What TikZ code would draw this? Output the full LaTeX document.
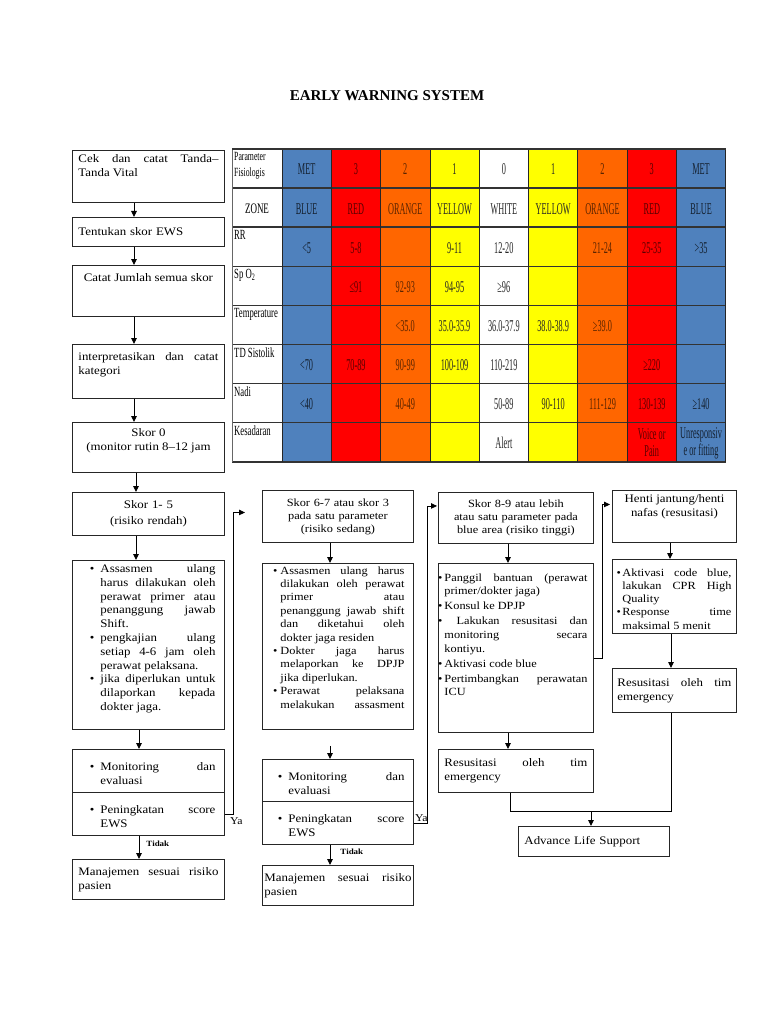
\documentclass[tikz,border=0pt]{standalone}
\usepackage{fontspec}
\setmainfont{Liberation Serif}[FakeStretch=1.12]
\newfontfamily\judulfont{Liberation Serif}
\newfontfamily\tabel[FakeStretch=0.62]{Liberation Serif}
\newfontfamily\tabelsempit[FakeStretch=0.5]{Liberation Serif}
\usepackage{enumitem}
\usepackage{tikz}
\usetikzlibrary{arrows.meta, positioning}

\definecolor{biru}{HTML}{4F81BD}
\definecolor{merah}{HTML}{FF0000}
\definecolor{oranye}{HTML}{FF6600}
\definecolor{kuning}{HTML}{FFFF00}
\definecolor{putih}{HTML}{FFFFFF}
\colorlet{tk1}{biru!25!black}
\colorlet{tk2}{merah!35!black}
\colorlet{tk3}{oranye!35!black}
\colorlet{tk4}{black!85}
\colorlet{tk5}{black!85}
\colorlet{tk6}{black!85}
\colorlet{tk7}{oranye!35!black}
\colorlet{tk8}{merah!35!black}
\colorlet{tk9}{biru!25!black}

\newlist{butir}{itemize}{1}
\setlist[butir]{label=\textbullet, nosep, leftmargin=12pt, labelsep=4pt}
\newcommand{\atas}[3][0pt]{\parbox[t][#2][t]{\linewidth}{\vspace*{#1}#3}}

\begin{document}
\begin{tikzpicture}[
  x=1pt, y=-1pt,
  kotak/.style={draw=black!85, line width=0.9pt, fill=white, anchor=north west,
    inner xsep=6pt, inner ysep=4pt, align=justify,
    font=\fontsize{11.5}{13.8}\selectfont},
  kiri/.style={kotak, text width=140pt},
  tengah/.style={kotak, text width=139pt},
  kanan/.style={kotak, text width=143pt},
  ujung/.style={kotak, inner xsep=5pt, text width=114pt},
  panah/.style={-{Triangle[length=6pt, width=5.5pt]}, line width=0.9pt},
  garis/.style={line width=0.9pt},
  ket/.style={inner sep=1pt, font=\fontsize{10.5}{12}\selectfont},
  sel/.style={inner sep=0pt, align=center, font=\tabelsempit\fontsize{16.5}{17}\selectfont},
  judulbaris/.style={anchor=north west, inner sep=1pt, align=left,
    font=\tabel\fontsize{14}{15}\selectfont},
  garistabel/.style={line width=1.4pt, black!80}
]
  \fill[white] (0,0) rectangle (768,1024);
  \useasboundingbox (0,0) rectangle (768,1024);

  \node[font=\judulfont\fontsize{15}{18}\selectfont\bfseries] (judul) at (387,96) {EARLY WARNING SYSTEM};

  % tabel skor
  \foreach \w [count=\c] in {biru,merah,oranye,kuning,putih,kuning,oranye,merah,biru}
    \fill[\w] ({282+(\c-1)*49.3},149) rectangle ++(49.3,312.8);
  \foreach \r in {0,...,8}
    \draw[garistabel] (232,{149+\r*39.1}) -- (725.7,{149+\r*39.1});
  \foreach \c in {0,...,9}
    \draw[black!85, line width=0.8pt] ({282+\c*49.3},149) -- ({282+\c*49.3},461.8);
  \draw[black!60, line width=0.6pt] (232,149) -- (232,461.8);
  \draw[black!80, line width=2pt] (232,149) -- (725.7,149);

  \node[judulbaris, font=\tabel\fontsize{12.5}{16}\selectfont] (param) at (233,151) {Parameter\\Fisiologis};
  \node[sel, font=\tabel\fontsize{14.5}{17}\selectfont] (zona) at (257,209) {ZONE};
  \foreach \lbl [count=\r] in {RR, Sp O\textsubscript{2}, Temperature, TD Sistolik, Nadi, Kesadaran}
    \node[judulbaris] (lb\r) at (233,{229.2+(\r-1)*39.1}) {\lbl};

  \foreach \yy/\isibaris [count=\r] in {
      169/{MET,3,2,1,0,1,2,3,MET},
      209/{BLUE,RED,ORANGE,YELLOW,WHITE,YELLOW,ORANGE,RED,BLUE},
      248/{<5,5-8,{},9-11,12-20,{},21-24,25-35,>35},
      287/{{},≤91,92-93,94-95,≥96,{},{},{},{}},
      326/{{},{},<35.0,35.0-35.9,36.0-37.9,38.0-38.9,≥39.0,{},{}},
      365/{<70,70-89,90-99,100-109,110-219,{},{},≥220,{}},
      404/{<40,{},40-49,{},50-89,90-110,111-129,130-139,≥140},
      443/{{},{},{},{},Alert,{},{},{Voice or\\Pain},{Unresponsiv\\e or fitting}}}
    \foreach \isi [count=\c] in \isibaris
      \node[sel, text=tk\c] (s\r-\c) at ({282+(\c-0.5)*49.3},\yy) {\isi};

  % kolom kiri
  \node[kiri] (cek) at (72,150) {\atas{44pt}{Cek dan catat Tanda–\linebreak Tanda Vital}};
  \node[kiri, minimum height=29pt, align=left] (ews) at (72,217) {Tentukan skor EWS};
  \node[kiri] (jml) at (72,265) {\atas[4pt]{43pt}{\centering Catat Jumlah semua skor}};
  \node[kiri] (intp) at (72,344) {\atas[4pt]{46pt}{interpretasikan dan catat\linebreak kategori}};
  \node[kiri] (skor0) at (72,422) {\atas[2pt]{42pt}{\centering Skor 0\\(monitor rutin 8–12 jam}};
  \node[kiri, minimum height=43pt, align=center] (sk15) at (72,492) {Skor 1- 5\\[2pt](risiko rendah)};
  \node[kiri] (tind1) at (72,560) {\atas{161pt}{\begin{butir}[leftmargin=22pt, labelsep=6pt, rightmargin=3pt]
    \item Assasmen ulang\linebreak harus dilakukan oleh\linebreak perawat primer atau\linebreak penanggung jawab\linebreak Shift.
    \item pengkajian ulang\linebreak setiap 4-6 jam oleh\linebreak perawat pelaksana.
    \item jika diperlukan untuk\linebreak dilaporkan kepada\linebreak dokter jaga.
    \end{butir}}};
  \node[kiri, minimum height=43pt] (mon1) at (72,749) {\begin{butir}[leftmargin=22pt, labelsep=6pt, rightmargin=3pt]
    \item Monitoring dan\linebreak evaluasi\end{butir}};
  \node[kiri, minimum height=43pt] (pen1) at (72,792) {\begin{butir}[leftmargin=22pt, labelsep=6pt, rightmargin=3pt]
    \item Peningkatan score\linebreak EWS\end{butir}};
  \node[kiri, minimum height=40pt] (man1) at (72,859) {Manajemen sesuai risiko\linebreak pasien};

  % kolom tengah
  \node[tengah, minimum height=52pt, align=center, font=\fontsize{11}{13}\selectfont] (sk67) at (262,490)
    {Skor 6-7 atau skor 3\\pada satu parameter\\(risiko sedang)};
  \node[tengah, inner ysep=3pt, font=\fontsize{11}{13.4}\selectfont] (tind2) at (262,563) {\atas{160pt}{\begin{butir}[leftmargin=12pt, labelsep=3pt, rightmargin=3pt]
    \item Assasmen ulang harus\linebreak dilakukan oleh perawat\linebreak primer atau\linebreak penanggung jawab shift\linebreak dan diketahui oleh\linebreak dokter jaga residen
    \item Dokter jaga harus\linebreak melaporkan ke DPJP\linebreak jika diperlukan.
    \item Perawat pelaksana\linebreak melakukan\hfill assasment
    \end{butir}}};
  \node[tengah, minimum height=42pt] (mon2) at (262,759) {\begin{butir}[leftmargin=20pt, labelsep=6pt, rightmargin=3pt]
    \item Monitoring dan\linebreak evaluasi\end{butir}};
  \node[tengah, minimum height=43pt] (pen2) at (262,801) {\begin{butir}[leftmargin=20pt, labelsep=6pt, rightmargin=3pt]
    \item Peningkatan score\linebreak EWS\end{butir}};
  \node[tengah, minimum height=40pt, inner xsep=2pt, text width=147pt] (man2) at (262,865) {Manajemen sesuai risiko\linebreak pasien};

  % kolom kanan
  \node[kanan, minimum height=51pt, align=center, font=\fontsize{11}{13}\selectfont] (sk89) at (438,492)
    {Skor 8-9 atau lebih\\atau satu parameter pada\\blue area (risiko tinggi)};
  \node[kanan, font=\fontsize{11}{13.6}\selectfont] (tind3) at (438,563) {\atas[6pt]{161pt}{\begin{butir}[leftmargin=0pt, labelsep=2pt, itemsep=1.5pt]
    \item Panggil bantuan (perawat\linebreak primer/dokter jaga)
    \item Konsul ke DPJP
    \item \ Lakukan resusitasi dan\linebreak monitoring secara\linebreak kontiyu.
    \item Aktivasi code blue
    \item Pertimbangkan perawatan\linebreak ICU
    \end{butir}}};
  \node[kanan, minimum height=43pt] (res1) at (438,749) {Resusitasi oleh tim\linebreak emergency};
  \node[kotak, text width=139pt, minimum height=30pt, align=left] (als) at (518,826) {Advance Life Support};

  % kolom ujung
  \node[ujung] (henti) at (612,490) {\atas{44pt}{\centering Henti jantung/henti\\nafas (resusitasi)}};
  \node[ujung, inner ysep=3pt, font=\fontsize{11}{13.3}\selectfont] (tind4) at (612,559) {\atas[6pt]{68pt}{\begin{butir}[leftmargin=5pt, labelsep=1.5pt]
    \item Aktivasi code blue,\linebreak lakukan CPR High\linebreak Quality
    \item Response time\linebreak maksimal 5 menit\end{butir}}};
  \node[ujung, minimum height=44pt] (res2) at (612,668) {Resusitasi oleh tim\linebreak emergency};

  % panah
  \coordinate (kk) at (134,0);
  \coordinate (kt) at (330,0);
  \coordinate (kn) at (508,0);
  \coordinate (ku) at (670,0);
  \draw[panah] (cek.south -| kk) -- (ews.north -| kk);
  \draw[panah] (ews.south -| kk) -- (jml.north -| kk);
  \draw[panah] (jml.south -| kk) -- (intp.north -| kk);
  \draw[panah] (intp.south -| kk) -- (skor0.north -| kk);
  \draw[panah] ([xshift=2pt]skor0.south -| kk) -- ([xshift=2pt]sk15.north -| kk);
  \draw[panah] ([xshift=2pt]sk15.south -| kk) -- ([xshift=2pt]tind1.north -| kk);
  \draw[panah] ([xshift=5pt]tind1.south -| kk) -- ([xshift=5pt]mon1.north -| kk);
  \draw[panah] ([xshift=5pt]pen1.south -| kk) -- node[right, pos=0.35, xshift=6pt, inner sep=1pt,
    font=\fontsize{8}{9}\selectfont\bfseries] (td1) {Tidak} ([xshift=5pt]man1.north -| kk);

  \draw[panah] (sk67.south -| kt) -- (tind2.north -| kt);
  \draw[panah] ([yshift=-16pt]tind2.south -| kt) -- (mon2.north -| kt);
  \draw[panah] (pen2.south -| kt) -- node[right, pos=0.35, xshift=9pt, inner sep=1pt,
    font=\fontsize{8}{9}\selectfont\bfseries] (td2) {Tidak} (man2.north -| kt);

  \draw[panah] (sk89.south -| kn) -- (tind3.north -| kn);
  \draw[panah] (tind3.south -| kn) -- (res1.north -| kn);

  \draw[panah] (henti.south -| ku) -- (tind4.north -| ku);
  \draw[panah] ([xshift=1pt]tind4.south -| ku) -- ([xshift=1pt]res2.north -| ku);

  \draw[panah, shorten >=17pt] (pen1.east) -- ++(9,0) |- ([yshift=4pt]sk67.west);
  \node[ket, anchor=north west, xshift=4pt, yshift=-2pt] (ya1) at (pen1.east) {Ya};
  \draw[panah, shorten >=1pt] (pen2.east) -- ++(14,0) |- ([yshift=12pt]sk89.west);
  \node[ket, anchor=south west] (ya2) at (pen2.east) {Ya};
  \draw[panah, shorten >=2pt] ([yshift=-10pt]tind3.east) -- ++(9,0) |- ([yshift=12pt]henti.west);

  \coordinate (gabung) at (591,811);
  \draw[garis] ([xshift=-6pt]res1.south) |- (gabung);
  \draw[garis] ([xshift=-3pt]res2.south) |- (gabung);
  \draw[panah] (gabung) -- (gabung |- als.north);
\end{tikzpicture}
\end{document}
